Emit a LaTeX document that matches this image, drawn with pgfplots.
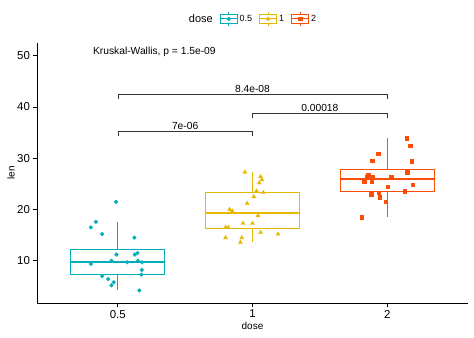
\documentclass[border=0pt]{standalone}
\usepackage{fontspec}
\setmainfont{Liberation Sans}
\usepackage{pgfplots}
\pgfplotsset{compat=1.18}
\definecolor{cA}{HTML}{00AFBB}
\definecolor{cB}{HTML}{E7B800}
\definecolor{cC}{HTML}{FC4E07}
\pgfplotsset{
 bpkey/.style={legend image code/.code={
   \draw[##1, line width=1bp, fill=white, mark=none] (0bp,-4.5bp) rectangle (17bp,4.5bp);
   \draw[##1, line width=1bp, mark=none] (8.5bp,4.5bp) -- (8.5bp,7bp) (8.5bp,-4.5bp) -- (8.5bp,-7bp) (0bp,0bp) -- (17bp,0bp);
   \draw[##1] plot coordinates {(8.5bp,0bp)};
 }},
 boxst/.style={line width=1bp, fill=white, forget plot},
 whst/.style={line width=1bp, forget plot},
 medst/.style={line width=2bp, forget plot},
}
\begin{document}
\begin{tikzpicture}
\path[use as bounding box] (0,0) rectangle (474bp,338bp);
\begin{axis}[
 at={(37bp,35bp)}, anchor=south west, scale only axis, width=431bp, height=260bp,
 xmin=0.4, xmax=3.6, ymin=1.75, ymax=52.5,
 axis lines*=left, axis line style={line width=0.8bp, black},
 xtick={1,2,3}, xticklabels={0.5,1,2}, ytick={10,20,30,40,50},
 tick align=outside, major tick length=3.5bp, tick style={line width=0.8bp, black},
 /pgf/number format/assume math mode=true,
 tick label style={font=\fontsize{11.5}{13}\selectfont},
 xlabel={dose}, ylabel={len}, label style={font=\fontsize{11.5}{13}\selectfont},
 every axis y label/.style={at={(axis description cs:0,0.5)}, xshift=-26bp, rotate=90, anchor=center},
 every axis x label/.style={at={(axis description cs:0.5,0)}, yshift=-23bp, anchor=center},
 clip=false,
 legend style={at={(0.5,1)}, anchor=center, yshift=24bp, draw=none, fill=none, legend columns=-1,
   font=\fontsize{9}{11}\selectfont, /tikz/every even column/.append style={column sep=5bp}},
]
\addlegendimage{empty legend}\addlegendentry{\fontsize{11}{13}\selectfont dose}
\addlegendimage{bpkey, cA, mark=*, mark size=1.9bp}\addlegendentry{0.5}
\addlegendimage{bpkey, cB, mark=triangle*, mark size=2.3bp}\addlegendentry{1}
\addlegendimage{bpkey, cC, mark=square*, mark size=1.7bp}\addlegendentry{2}

% dose 0.5 box
\addplot[cA, boxst] coordinates {(0.65,7.225) (1.35,7.225) (1.35,12.25) (0.65,12.25) (0.65,7.225)};
\addplot[cA, whst] coordinates {(1,12.25) (1,17.6)};
\addplot[cA, whst] coordinates {(1,7.225) (1,4.2)};
\addplot[cA, medst] coordinates {(0.65,9.85) (1.35,9.85)};
% dose 1 box
\addplot[cB, boxst] coordinates {(1.65,16.25) (2.35,16.25) (2.35,23.375) (1.65,23.375) (1.65,16.25)};
\addplot[cB, whst] coordinates {(2,23.375) (2,27.3)};
\addplot[cB, whst] coordinates {(2,16.25) (2,13.6)};
\addplot[cB, medst] coordinates {(1.65,19.25) (2.35,19.25)};
% dose 2 box
\addplot[cC, boxst] coordinates {(2.65,23.525) (3.35,23.525) (3.35,27.825) (2.65,27.825) (2.65,23.525)};
\addplot[cC, whst] coordinates {(3,27.825) (3,33.9)};
\addplot[cC, whst] coordinates {(3,23.525) (3,18.5)};
\addplot[cC, medst] coordinates {(2.65,25.95) (3.35,25.95)};

\addplot[only marks, mark=*, cA, mark size=1.9bp, forget plot] coordinates {
(0.987,21.5) (0.837,17.6) (0.8,16.5) (0.884,15.2) (1.123,14.5) (0.99,11.2) (1.126,11.2) (1.146,11.5) (0.953,10.0) (1.15,10.0) (0.8,9.4) (1.18,9.7) (1.07,9.7) (1.178,8.2) (1.175,7.3) (0.884,7.0) (0.928,6.4) (0.97,5.8) (0.953,5.2) (1.16,4.2)};
\addplot[only marks, mark=triangle*, cB, mark size=2.3bp, forget plot] coordinates {
(1.943,27.3) (2.06,26.4) (2.07,25.8) (2.05,25.2) (2.03,23.6) (2.08,23.3) (2.01,22.5) (1.96,21.2) (1.83,20.0) (1.85,19.7) (2.04,18.8) (1.93,17.3) (2.0,17.3) (1.8,16.5) (1.82,16.5) (2.06,15.5) (2.19,15.2) (1.8,14.5) (1.92,14.5) (1.91,13.6)};
\addplot[only marks, mark=square*, cC, mark size=1.7bp, forget plot] coordinates {
(3.143,33.9) (3.17,32.5) (2.933,30.9) (2.89,29.5) (3.18,29.4) (3.15,27.3) (2.86,26.7) (2.85,26.4) (2.89,26.4) (3.03,26.4) (2.83,25.5) (2.885,25.5) (3.005,24.5) (3.19,24.8) (3.13,23.6) (2.88,23.0) (2.935,23.3) (2.945,22.4) (2.99,21.5) (2.81,18.5)};

\addplot[black!80, line width=0.6bp, forget plot] coordinates {(1,41.6) (1,42.47) (3,42.47) (3,41.6)};
\addplot[black!80, line width=0.6bp, forget plot] coordinates {(2,37.9) (2,38.76) (3,38.76) (3,37.9)};
\addplot[black!80, line width=0.6bp, forget plot] coordinates {(1,34.4) (1,35.25) (2,35.25) (2,34.4)};
\node[anchor=south, inner sep=2bp, font=\fontsize{10.3}{12}\selectfont] at (axis cs:2,42.47) {8.4e-08};
\node[anchor=south, inner sep=2bp, font=\fontsize{10.3}{12}\selectfont] at (axis cs:2.5,38.76) {0.00018};
\node[anchor=south, inner sep=2bp, font=\fontsize{10.3}{12}\selectfont] at (axis cs:1.5,35.25) {7e-06};
\node[anchor=west, inner sep=0pt, font=\fontsize{10.3}{12}\selectfont] at (axis cs:0.815,50.7) {Kruskal-Wallis, p = 1.5e-09};
\end{axis}
\end{tikzpicture}
\end{document}
